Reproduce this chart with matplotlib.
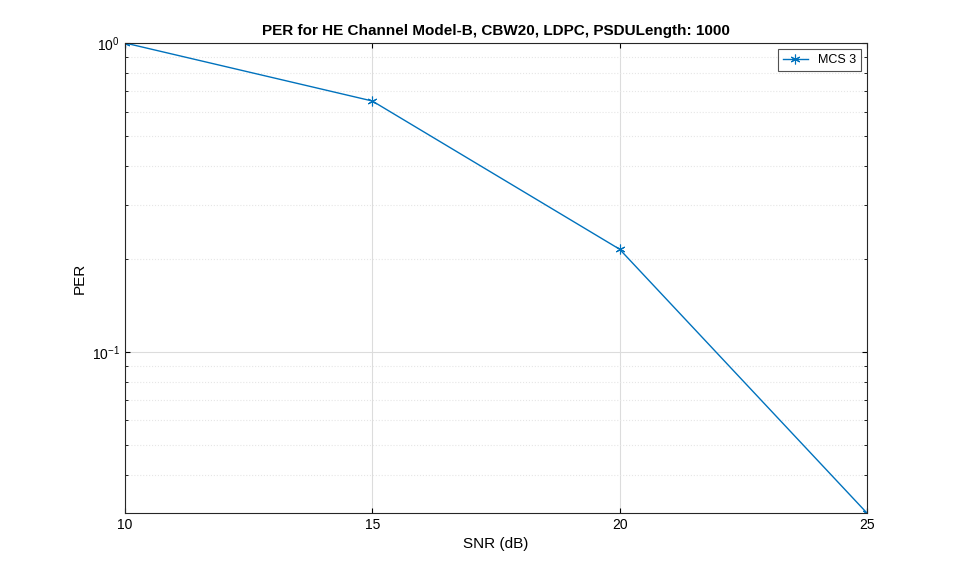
import matplotlib
matplotlib.use("Agg")
import matplotlib.pyplot as plt
from matplotlib.ticker import LogLocator, NullFormatter

plt.rcParams["font.family"] = ["Liberation Sans", "DejaVu Sans"]

snr = [10, 15, 20, 25]
per = [1.0, 0.649, 0.215, 0.0301]

fig = plt.figure(figsize=(9.59, 5.77), dpi=100)
ax = fig.add_axes([0.1303, 0.1109, 0.7737, 0.8146])
# Asterisk marker wie in MATLAB
ax.plot(snr, per, color="#0072BD", marker=(6, 2, 0), linewidth=1,
        markersize=7, markeredgewidth=0.8, label="MCS 3")
ax.set_yscale("log")
ax.set_xlim(10, 25)
ax.set_ylim(0.0301, 1.0)
ax.set_xticks([10, 15, 20, 25])
ax.yaxis.set_major_locator(LogLocator(base=10, numticks=10))
ax.yaxis.set_minor_locator(LogLocator(base=10, subs=range(2, 10), numticks=10))
ax.yaxis.set_minor_formatter(NullFormatter())
ax.grid(True, which="major", color="#dcdcdc", linewidth=0.8)
ax.grid(True, which="minor", axis="y", color="#e6e6e6", linestyle=":", linewidth=0.8)
ax.tick_params(which="both", direction="in", top=True, right=True, labelsize=10)
for s in ax.spines.values():
    s.set_color("#262626")
    s.set_linewidth(0.8)
ax.set_xlabel("SNR (dB)", fontsize=11)
ax.set_ylabel("PER", fontsize=11)
ax.set_title("PER for HE Channel Model-B, CBW20, LDPC, PSDULength: 1000",
             fontsize=11, fontweight="bold")
leg = ax.legend(loc="upper right", fontsize=9, fancybox=False, edgecolor="#262626")
leg.get_frame().set_linewidth(0.8)
fig.savefig("out.png", dpi=100)
